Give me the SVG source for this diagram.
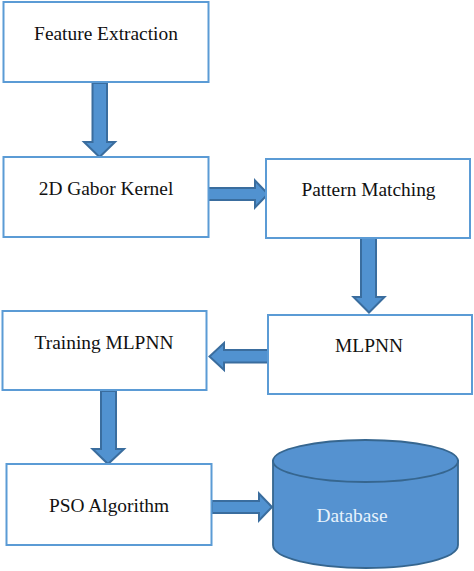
<svg xmlns="http://www.w3.org/2000/svg" width="474" height="571" viewBox="0 0 474 571">
<style>
.box{fill:#fff;stroke:#5b9bd5;stroke-width:2}
.arr{fill:#5192d0;stroke:#3a6d9e;stroke-width:2;stroke-linejoin:miter}
.t{font-family:"Liberation Serif","Times New Roman",serif;font-size:19.4px;fill:#111;text-anchor:middle}
.cyl{fill:#5592d0;stroke:#36668f;stroke-width:1.8}
</style>
<rect width="474" height="571" fill="#fff"/>
<g id="connectors">
<polygon class="arr" points="92.500,83 107,83 107,142 115,142 99.500,157 84,142 92.500,142"/>
<polygon class="arr" points="208,188 255,188 255,180.500 268,194 255,207.500 255,200 208,200"/>
<polygon class="arr" points="361,238 376,238 376,297 384.500,297 369,312.500 353.500,297 361,297"/>
<polygon class="arr" points="269,350 224,350 224,343 209.500,356.500 224,370 224,362.500 269,362.500"/>
<polygon class="arr" points="101,391 116,391 116,449 124,449 108,464 92.500,449 101,449"/>
<polygon class="arr" points="212,501 259,501 259,493.500 272,507 259,520.500 259,513 212,513"/>
</g>
<g id="feature-extraction"><rect class="box" x="3.500" y="2" width="205" height="80"/><text class="t" x="106" y="40">Feature Extraction</text></g>
<g id="gabor-kernel"><rect class="box" x="3.500" y="157" width="205" height="80"/><text class="t" x="106" y="195">2D Gabor Kernel</text></g>
<g id="pattern-matching"><rect class="box" x="266" y="159" width="204" height="79"/><text class="t" x="368.500" y="196">Pattern Matching</text></g>
<g id="mlpnn"><rect class="box" x="268" y="315" width="204" height="79"/><text class="t" x="369" y="352">MLPNN</text></g>
<g id="training-mlpnn"><rect class="box" x="2.500" y="311" width="204" height="79"/><text class="t" x="104" y="349">Training MLPNN</text></g>
<g id="pso-algorithm"><rect class="box" x="6.500" y="464" width="205" height="81"/><text class="t" x="109" y="512">PSO Algorithm</text></g>
<g id="database">
<path class="cyl" d="M273 461 V545 C273 558 314 568 366 568 C418 568 458 558 458 545 V461 Z"/>
<ellipse class="cyl" cx="365.500" cy="461" rx="92.500" ry="21"/>
<text class="t" x="352" y="522" style="fill:#e8f3fc">Database</text>
</g>
</svg>
